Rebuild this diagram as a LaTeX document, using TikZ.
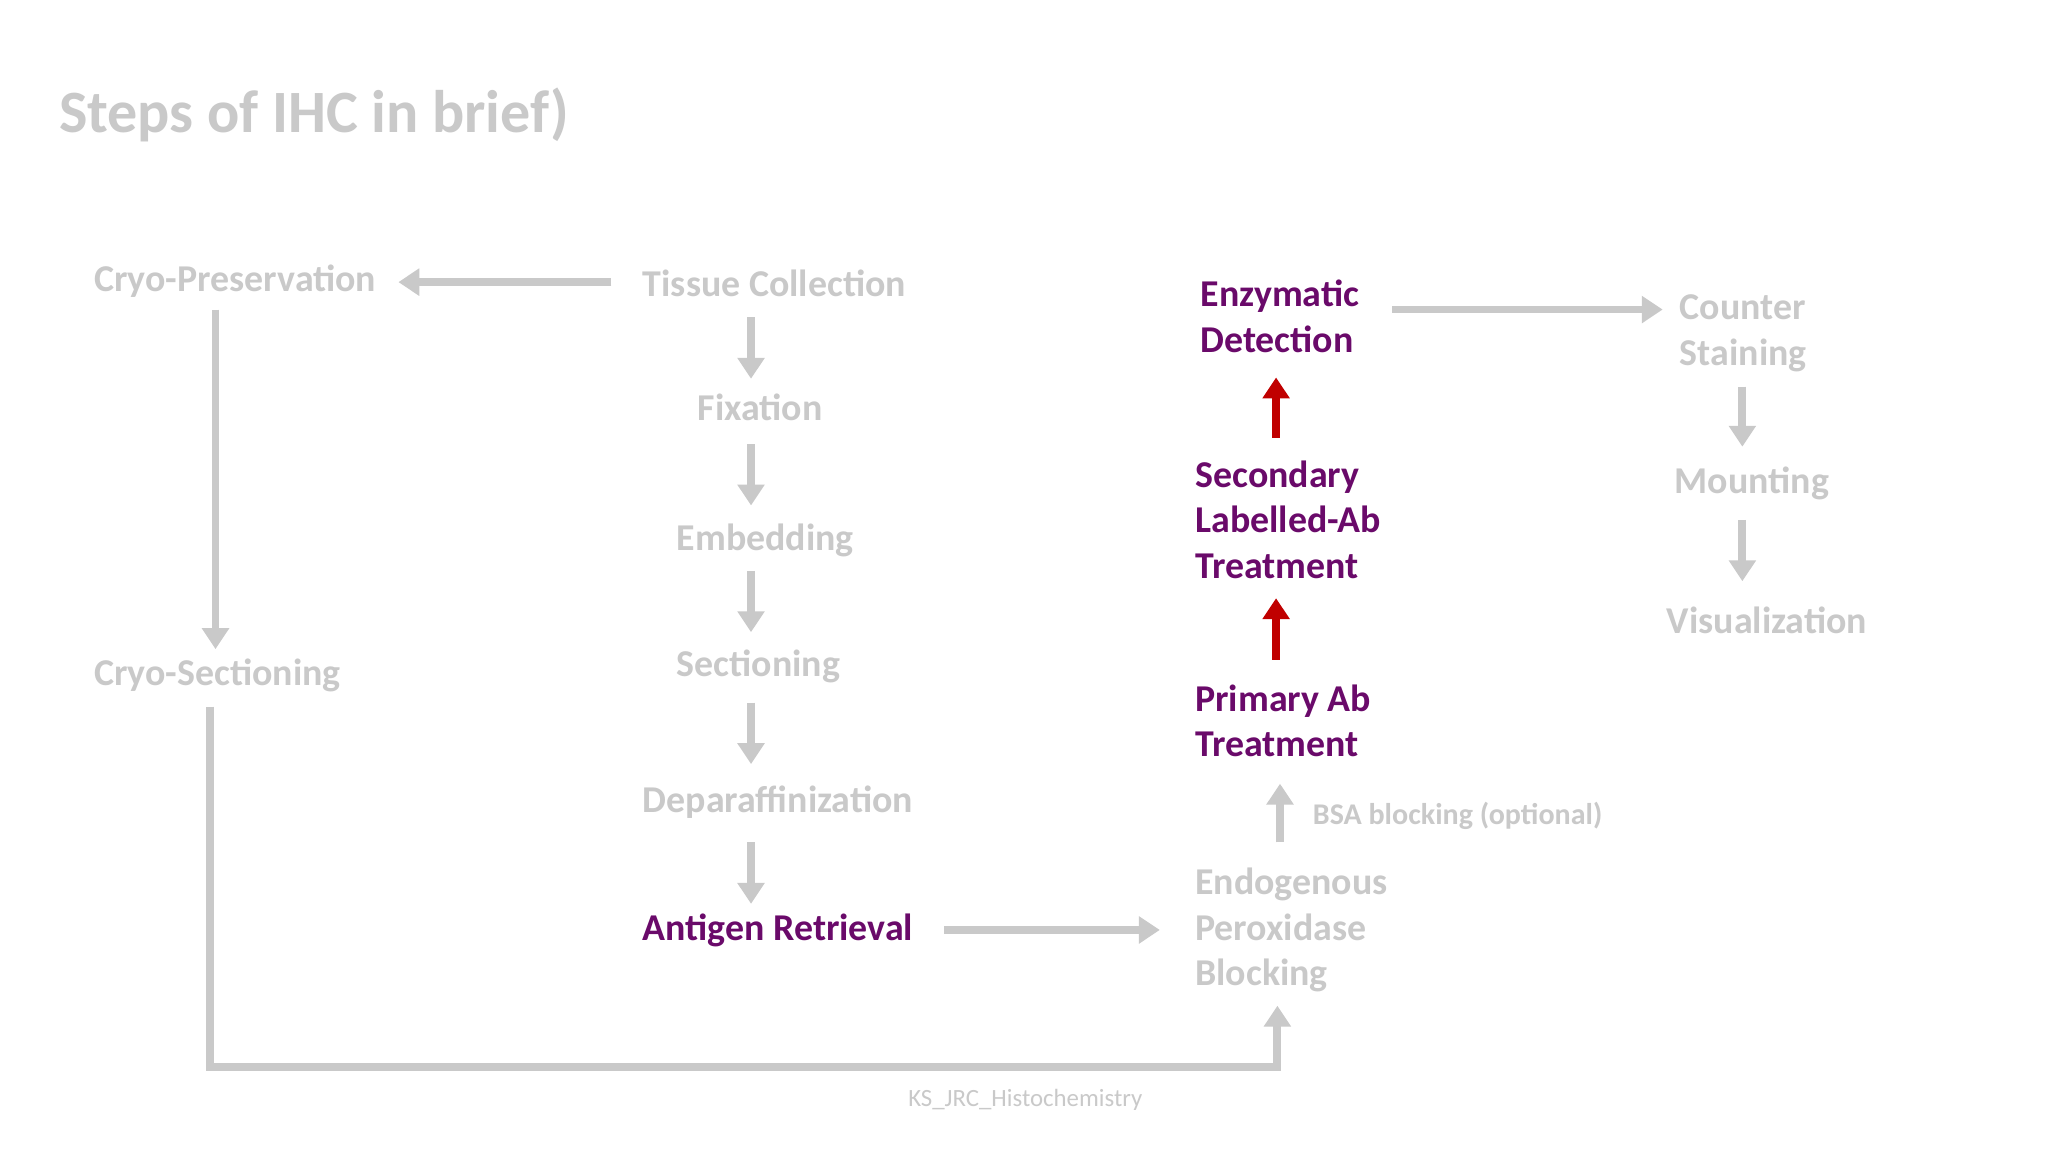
\documentclass[tikz,border=0pt]{standalone}
\usepackage{fontspec}
\setmainfont{Carlito}
\usetikzlibrary{arrows.meta}
\definecolor{lg}{HTML}{C9C9C9}
\definecolor{pu}{HTML}{6A0A6A}
\definecolor{rd}{HTML}{C00000}
\tikzset{
 x=1pt,y=-1pt,
 lbl/.style={anchor=west,inner sep=0pt,font=\fontsize{29}{35}\selectfont\bfseries,text=lg,align=left},
 plbl/.style={lbl,text=pu},
 arr/.style={draw=lg,line width=6pt,-{Triangle[width=20pt,length=16pt]}},
 rarr/.style={arr,draw=rd}
}
\begin{document}
\begin{tikzpicture}
\useasboundingbox[fill=white] (0,0) rectangle (1568,882);
\node[lbl,font=\fontsize{46}{50}\selectfont\bfseries] (title) at (45,88) {Steps of IHC in brief)};
\node[lbl] (cp) at (72,215) {Cryo-Preservation};
\node[lbl] (tc) at (492,217) {Tissue Collection};
\node[lbl] (fx) at (534,312) {Fixation};
\node[lbl] (em) at (518,414) {Embedding};
\node[lbl] (se) at (518,510) {Sectioning};
\node[lbl] (dp) at (492,614) {Deparaffinization};
\node[plbl] (ar) at (492,712) {Antigen Retrieval};
\node[lbl] (cs) at (72,517) {Cryo-Sectioning};
\node[plbl] (ed) at (919,242) {Enzymatic\\Detection};
\node[plbl] (sl) at (915,398) {Secondary\\Labelled-Ab\\Treatment};
\node[plbl] (pa) at (915,552) {Primary Ab\\Treatment};
\node[lbl,font=\fontsize{23}{26}\selectfont\bfseries] (bsa) at (1005,625) {BSA blocking (optional)};
\node[lbl] (ep) at (915,712) {Endogenous\\Peroxidase\\Blocking};
\node[lbl] (cst) at (1286,255) {Counter\\Staining};
\node[lbl] (mo) at (1282,370) {Mounting};
\node[lbl] (vi) at (1276,475) {Visualization};
\node[font=\fontsize{19}{21}\selectfont,text=lg] (ft) at (785,842) {KS\_JRC\_Histochemistry};
% connectors
\draw[arr] (468,216) -- (305,216);
\foreach \a/\b in {243/290,340/387,437/484,538/585,645/692}
  \draw[arr] (575,\a) -- (575,\b);
\draw[arr] (165,237) -- (165,497);
\coordinate (k1) at (161,541);
\coordinate (k2) at (161,817);
\coordinate (k3) at (978,817);
\draw[arr] (k1) -- (k2) -- (k3) -- (978,770);
\draw[arr] (723,712) -- (888,712);
\draw[arr] (980,645) -- (980,600);
\draw[rarr] (977,335) -- (977,289);
\draw[rarr] (977,505) -- (977,458);
\draw[arr] (1066,237) -- (1273,237);
\draw[arr] (1334,296) -- (1334,342);
\draw[arr] (1334,398) -- (1334,445);
\end{tikzpicture}
\end{document}
